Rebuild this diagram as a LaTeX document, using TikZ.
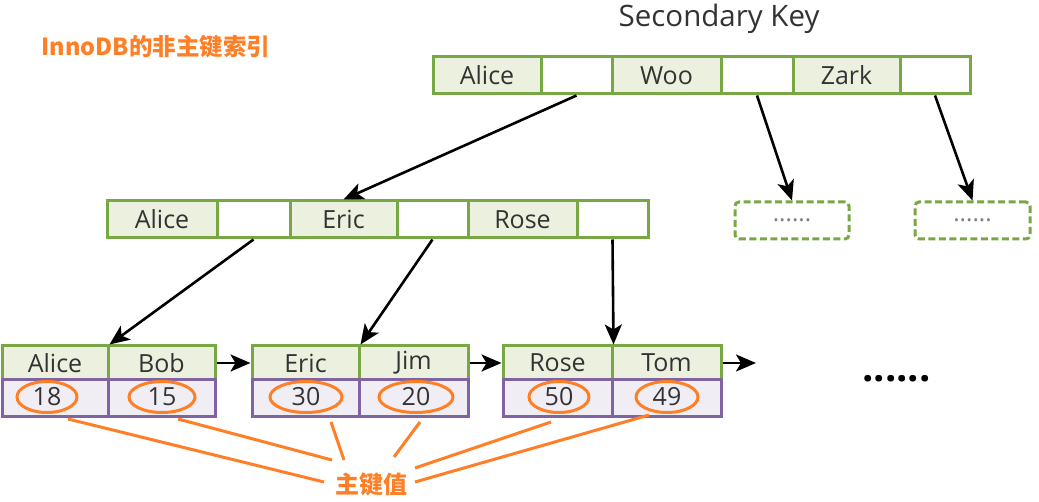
\documentclass[tikz,border=0pt]{standalone}
\usepackage{fontspec}
\setmainfont{Open Sans}
\newfontfamily\cjk{Noto Sans CJK SC}
\usetikzlibrary{arrows.meta,shapes.geometric}
\definecolor{gborder}{HTML}{77A843}
\definecolor{gfill}{HTML}{EBF1DE}
\definecolor{pborder}{HTML}{8064A2}
\definecolor{pfill}{HTML}{F0EEF4}
\definecolor{orng}{HTML}{FF7F27}
\definecolor{txt}{HTML}{333333}
\tikzset{
  keycell/.style={draw=gborder, fill=gfill, line width=3pt, minimum height=37pt, inner sep=0pt, text=txt, font=\fontsize{25}{28}\selectfont},
  ptrcell/.style={draw=gborder, fill=white, line width=3pt, minimum height=37pt, inner sep=0pt},
  leafkey/.style={draw=gborder, fill=gfill, line width=3pt, minimum height=34pt, inner sep=0pt, text=txt, font=\fontsize{25}{28}\selectfont},
  leafval/.style={draw=pborder, fill=pfill, line width=3pt, minimum height=37pt, inner sep=0pt},
  dashbox/.style={draw=gborder, dash pattern=on 7pt off 3.5pt, line width=3pt, rounded corners=4pt, minimum height=37pt, minimum width=114pt, inner sep=0pt, text=gray, font=\fontsize{24}{26}\selectfont},
  ptr/.style={draw=black, line width=2.6pt, -{Stealth[length=20pt,width=17pt,inset=5pt]}},
  ring/.style={draw=orng, line width=3pt, ellipse, inner sep=0pt, minimum height=31pt, text=txt, font=\fontsize{25}{28}\selectfont},
  oline/.style={draw=orng, line width=3pt},
}
\begin{document}
\begin{tikzpicture}[x=1pt,y=-1pt]
\useasboundingbox[fill=white] (0,0) rectangle (1039,502);
% titles
\node[text=orng, font=\cjk\bfseries\fontsize{23.5}{26}\selectfont, anchor=west] (title) at (38,47) {InnoDB的非主键索引};
\node[text=txt, font=\fontsize{29.5}{32}\selectfont] (sk) at (719,19) {Secondary Key};
% top node
\node[keycell, minimum width=108pt] (t1) at (487,75.5) {Alice};
\node[ptrcell, minimum width=71pt] (t2) at (576.5,75.5) {};
\node[keycell, minimum width=109pt] (t3) at (666.5,75.5) {Woo};
\node[ptrcell, minimum width=72pt] (t4) at (757,75.5) {};
\node[keycell, minimum width=107pt] (t5) at (846.5,75.5) {Zark};
\node[ptrcell, minimum width=70pt] (t6) at (935,75.5) {};
% middle node
\node[keycell, minimum width=110pt] (m1) at (162,219.5) {Alice};
\node[ptrcell, minimum width=73pt] (m2) at (253.5,219.5) {};
\node[keycell, minimum width=107pt] (m3) at (343.5,219.5) {Eric};
\node[ptrcell, minimum width=71pt] (m4) at (432.5,219.5) {};
\node[keycell, minimum width=109pt] (m5) at (522.5,219.5) {Rose};
\node[ptrcell, minimum width=71pt] (m6) at (612.5,219.5) {};
% dashed boxes
\node[dashbox] (d1) at (792,220.5) {......};
\node[dashbox, minimum width=115pt] (d2) at (972.5,220.5) {......};
% leaves keys
\node[leafkey, minimum width=106pt] (l1a) at (55,363) {Alice};
\node[leafkey, minimum width=107pt] (l1b) at (161.5,363) {Bob};
\node[leafkey, minimum width=107pt] (l2a) at (305.5,363) {Eric};
\node[leafkey, minimum width=109pt] (l2b) at (413.5,363) {Jim};
\node[leafkey, minimum width=109pt] (l3a) at (557.5,363) {Rose};
\node[leafkey, minimum width=109pt] (l3b) at (666.5,363) {Tom};
% leaves values
\node[leafval, minimum width=106pt] (v1a) at (55,398.5) {};
\node[leafval, minimum width=107pt] (v1b) at (161.5,398.5) {};
\node[leafval, minimum width=107pt] (v2a) at (305.5,398.5) {};
\node[leafval, minimum width=109pt] (v2b) at (413.5,398.5) {};
\node[leafval, minimum width=109pt] (v3a) at (557.5,398.5) {};
\node[leafval, minimum width=109pt] (v3b) at (666.5,398.5) {};
% numbers with rings
\node[ring, minimum width=60pt] (n18) at (47,397) {18};
\node[ring, minimum width=66pt] (n15) at (162,397) {15};
\node[ring, minimum width=72pt] (n30) at (306,397) {30};
\node[ring, minimum width=74pt] (n20) at (416,397) {20};
\node[ring, minimum width=60pt] (n50) at (559,397) {50};
\node[ring, minimum width=62pt] (n49) at (667,397) {49};
% ellipsis
\node[font=\bfseries\fontsize{40}{42}\selectfont, text=black, anchor=base west, inner sep=0pt] (more) at (862,382) {......};
% pointers
\draw[ptr] (t2.south) -- (m3.north);
\draw[ptr] (t4.south) -- (d1.north);
\draw[ptr] (t6.south) -- (d2.north);
\draw[ptr] (m2.south) -- (l1a.north east);
\draw[ptr] (m4.south) -- (l2a.north east);
\draw[ptr] (m6.south) -- (l3a.north east);
\draw[ptr] (l1b.east) -- (l2a.west);
\draw[ptr] (l2b.east) -- (l3a.west);
\coordinate (nx) at (756,363);
\draw[ptr] (l3b.east) -- (nx);
% primary key label
\node[text=orng, font=\cjk\bfseries\fontsize{24}{26}\selectfont] (pk) at (371,484) {主键值};
\coordinate (s1) at (68,419);
\coordinate (s2) at (178,419);
\coordinate (s3) at (331,422);
\coordinate (s4) at (420,422);
\coordinate (s5) at (551,422);
\coordinate (s6) at (649,415);
\coordinate (e1) at (324,482);
\coordinate (e2) at (332,460);
\coordinate (e3) at (344,460);
\coordinate (e4) at (394,457);
\coordinate (e5) at (415,468);
\coordinate (e6) at (415,482);
\draw[oline] (s1) -- (e1);
\draw[oline] (s2) -- (e2);
\draw[oline] (s3) -- (e3);
\draw[oline] (s4) -- (e4);
\draw[oline] (s5) -- (e5);
\draw[oline] (s6) -- (e6);
\end{tikzpicture}
\end{document}
